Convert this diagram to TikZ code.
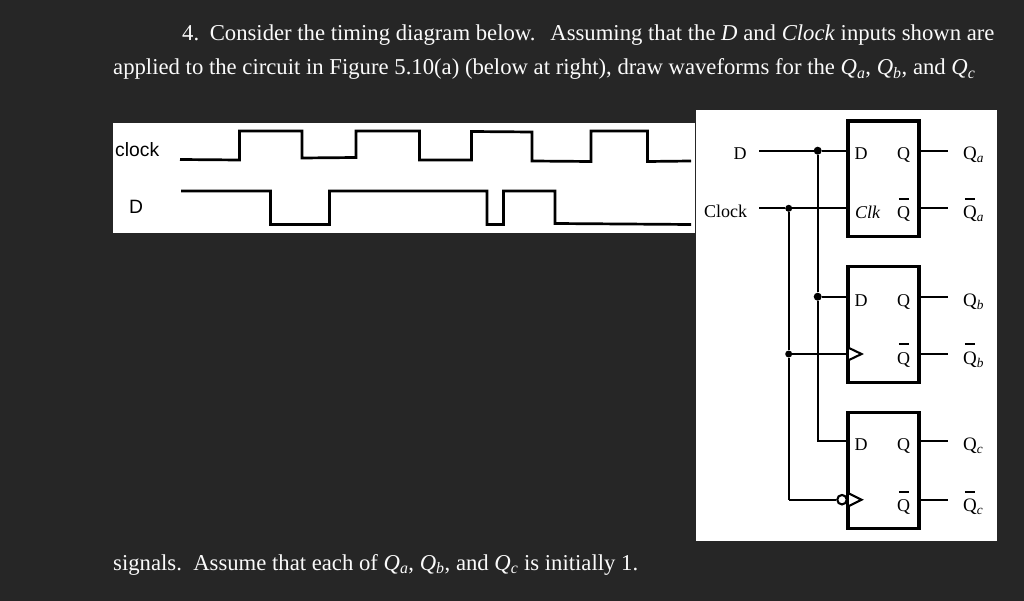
\documentclass[tikz,border=0pt]{standalone}
\usepackage{fontspec}
\setmainfont{Liberation Serif}
\newfontfamily\panelfont{Liberation Sans}
\definecolor{pagedark}{HTML}{262626}
\newcommand{\barq}{\makebox[0pt][l]{\hspace{1.7pt}\raisebox{19pt}{\rule{10pt}{2pt}}}Q}
\newcommand{\subq}[1]{\textsubscript{\textit{#1}}}
\tikzset{
  prose/.style={anchor=base west,inner sep=0pt,text=black!2,font=\fontsize{22.7}{25}\selectfont},
  wave/.style={black,line width=2.7pt,line join=miter},
  wire/.style={black,line width=2.1pt},
  flipflop/.style={draw=black,line width=3.4pt,fill=white,minimum width=71pt,inner sep=0pt},
  pin/.style={anchor=base,inner sep=0pt,font=\fontsize{18}{20}\selectfont},
  outlabel/.style={anchor=base west,inner sep=0pt,font=\fontsize{19}{21}\selectfont},
  panellabel/.style={inner sep=0pt,font=\panelfont\fontsize{19.3}{21}\selectfont},
  joint/.style={circle,fill=black,inner sep=0pt,minimum size=8pt},
}
\begin{document}
\begin{tikzpicture}[x=1pt,y=-1pt]
    \useasboundingbox (0,0) rectangle (1024,601);
    \fill[pagedark] (0,0) rectangle (1024,601);

    % Question text
    \node[prose] (lineone) at (182,41) {4.\hspace{3pt} Consider the timing diagram below.\ \hspace{3.5pt}\ Assuming that the \textit{D} and \textit{Clock} inputs shown are};
    \node[prose] (linetwo) at (113,75) {applied to the circuit in Figure 5.10(a) (below at right), draw waveforms for the \textit{Q}\subq{a}, \textit{Q}\subq{b}, and \textit{Q}\subq{c}};
    \node[prose] (linethree) at (113,570) {signals.\ \ Assume that each of \textit{Q}\subq{a}, \textit{Q}\subq{b}, and \textit{Q}\subq{c} is initially 1.};

    % Timing panel
    \fill[white] (113,123) rectangle (695,233);
    \node[panellabel,anchor=west] (clocklabel) at (115,149.5) {clock};
    \node[panellabel] (dlabel) at (136,207) {D};

    %% Clock wave
    \draw[wave] (180,159.5) -- (239.5,160) -- (239.5,131) -- (302,131) -- (302,158) -- (356,157.5)
      -- (356,131) -- (419.5,131) -- (419.5,160) -- (471.5,160) -- (471.5,131.5) -- (532,132)
      -- (532,161) -- (591,161.5) -- (591,131) -- (647.5,131) -- (647.5,161.5) -- (691,161);

    %% D wave
    \draw[wave] (181,191) -- (270.5,191) -- (270.5,224.5) -- (329.5,224.5) -- (329.5,191)
      -- (487,191) -- (487,224.5) -- (503.5,224.5) -- (503.5,191) -- (555,191)
      -- (555,223.5) -- (691,224.5);

    % Circuit panel
    \fill[white] (696,110) rectangle (997,541);

    %% Inputs
    \node[pin] (dinlabel) at (740,160) {D};
    \node[pin] (clkinlabel) at (725.5,218) {Clock};
    \coordinate (dstart) at (759,150.7);
    \coordinate (clkstart) at (759,208.3);
    \node[joint] (djointa) at (817.7,150.7) {};
    \node[joint,minimum size=7pt] (clkjointa) at (788.7,208.3) {};
    \node[joint] (djointb) at (817.7,296.7) {};
    \node[joint,minimum size=7pt] (clkjointb) at (788.7,354) {};
    \coordinate (dcorner) at (817.7,440.7);
    \coordinate (clkcorner) at (788.7,499.7);

    %% Flip-flops
    \node[flipflop,minimum height=115.5pt] (ffa) at (883.5,178.7) {};
    \node[flipflop,minimum height=116pt] (ffb) at (883.5,324.5) {};
    \node[flipflop,minimum height=116.5pt] (ffc) at (883.5,470.5) {};

    %% Wires
    \draw[wire] (dstart) -- (djointa) -- (djointa -| ffa.west);
    \draw[wire] (clkstart) -- (clkjointa) -- (clkjointa -| ffa.west);
    \draw[wire] (djointa) -- (djointb) -- (dcorner) -- (dcorner -| ffc.west);
    \draw[wire] (clkjointa) -- (clkjointb) -- (clkcorner);
    \draw[wire] (djointb) -- (djointb -| ffb.west);
    \draw[wire] (clkjointb) -- (clkjointb -| ffb.west);

    %% Clock triangles
    \draw[wire,fill=white] (849,348) -- (861.5,354) -- (849,360);
    \draw[wire,fill=white] (849,493.5) -- (861.5,499.7) -- (849,506);

    %% Inverting clock input
    \node[draw=black,line width=2.1pt,fill=white,circle,inner sep=0pt,minimum size=9.5pt] (bubble) at (842,499.7) {};
    \draw[wire] (clkcorner) -- (bubble);

    %% Pin names
    \node[pin] (ffad) at (861,160) {D};
    \node[pin] (ffaq) at (903.7,160) {Q};
    \node[pin] (ffaclk) at (867.7,219) {\textit{Clk}};
    \node[pin] (ffan) at (903.7,219) {\barq};
    \node[pin] (ffbd) at (861,306.7) {D};
    \node[pin] (ffbq) at (903.7,306.7) {Q};
    \node[pin] (ffbn) at (903.7,364.3) {\barq};
    \node[pin] (ffcd) at (861,450.7) {D};
    \node[pin] (ffcq) at (903.7,450.7) {Q};
    \node[pin] (ffcn) at (903.7,511.7) {\barq};

    %% Outputs
    \coordinate (qaend) at (947.7,150.7);
    \coordinate (naend) at (947.7,208.3);
    \coordinate (qbend) at (947.7,296.7);
    \coordinate (nbend) at (947.7,354);
    \coordinate (qcend) at (947.7,440.7);
    \coordinate (ncend) at (947.7,499.7);
    \draw[wire] (qaend -| ffa.east) -- (qaend);
    \draw[wire] (naend -| ffa.east) -- (naend);
    \draw[wire] (qbend -| ffb.east) -- (qbend);
    \draw[wire] (nbend -| ffb.east) -- (nbend);
    \draw[wire] (qcend -| ffc.east) -- (qcend);
    \draw[wire] (ncend -| ffc.east) -- (ncend);
    \node[outlabel] (qalabel) at (963,160) {Q\subq{a}};
    \node[outlabel] (nalabel) at (963,219) {\barq\subq{a}};
    \node[outlabel] (qblabel) at (963,306.7) {Q\subq{b}};
    \node[outlabel] (nblabel) at (963,364.3) {\barq\subq{b}};
    \node[outlabel] (qclabel) at (963,450.7) {Q\subq{c}};
    \node[outlabel] (nclabel) at (963,511.7) {\barq\subq{c}};
\end{tikzpicture}
\end{document}
